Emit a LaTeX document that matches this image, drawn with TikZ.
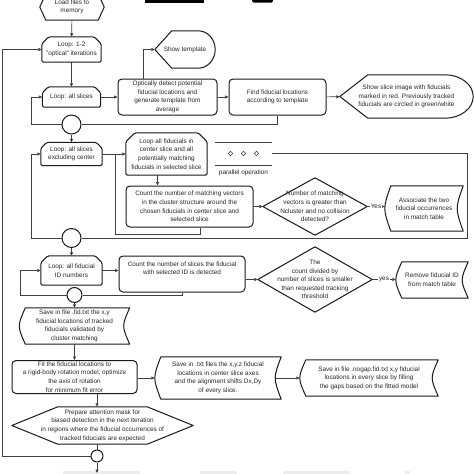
\documentclass[tikz,border=0pt]{standalone}
\usepackage{fontspec}
\setmainfont{Liberation Sans}
\usepackage{tikz}
\usetikzlibrary{arrows.meta}
\usetikzlibrary{calc}

\newcommand{\fcfont}{\fontsize{6.4}{8.6}\selectfont}

\tikzset{
    txt/.style={inner sep=0pt, align=center, font=\fcfont, text=black!85},
    sz/.style 2 args={minimum width=#1pt, minimum height=#2pt},
    outl/.style={draw=black!90, line width=1pt, line join=round},
    line/.style={draw=black!75, line width=0.6pt},
    arr/.style={line, -{Triangle[length=3.5pt,width=3pt]}},
    procbox/.style={txt, outl, rounded corners=4pt},
    junction/.style={circle, outl, inner sep=0pt, minimum size=#1pt},
    loopbox/.style={txt, append after command={\pgfextra{
        \draw[outl, rounded corners=1.5pt] (\tikzlastnode.south west) -- ([yshift=-#1pt]\tikzlastnode.north west)
            -- ([xshift=#1pt]\tikzlastnode.north west) -- ([xshift=-#1pt]\tikzlastnode.north east)
            -- ([yshift=-#1pt]\tikzlastnode.north east) -- (\tikzlastnode.south east) -- cycle;}}},
    prepbox/.style={txt, append after command={\pgfextra{
        \draw[outl] (\tikzlastnode.west) -- ([xshift=#1pt]\tikzlastnode.north west)
            -- ([xshift=-#1pt]\tikzlastnode.north east) -- (\tikzlastnode.east)
            -- ([xshift=-#1pt]\tikzlastnode.south east) -- ([xshift=#1pt]\tikzlastnode.south west) -- cycle;}}},
    storedbox/.style={txt, append after command={\pgfextra{
        \draw[outl] ([xshift=6pt]\tikzlastnode.north west) -- (\tikzlastnode.north east)
            .. controls ([xshift=-8pt]\tikzlastnode.east) .. (\tikzlastnode.south east)
            -- ([xshift=6pt]\tikzlastnode.south west)
            .. controls ([xshift=-2pt]\tikzlastnode.west) .. ([xshift=6pt]\tikzlastnode.north west) -- cycle;}}},
    displaybox/.style={txt, append after command={\pgfextra{
        \draw[outl] (\tikzlastnode.west) -- ([xshift=#1pt]\tikzlastnode.north west)
            -- ([xshift=-#1pt]\tikzlastnode.north east)
            .. controls ($([xshift=-#1pt]\tikzlastnode.north east)!0.55!(\tikzlastnode.north east)$)
               and ($(\tikzlastnode.east)!0.55!(\tikzlastnode.north east)$) .. (\tikzlastnode.east)
            .. controls ($(\tikzlastnode.east)!0.55!(\tikzlastnode.south east)$)
               and ($([xshift=-#1pt]\tikzlastnode.south east)!0.55!(\tikzlastnode.south east)$) .. ([xshift=-#1pt]\tikzlastnode.south east)
            -- ([xshift=#1pt]\tikzlastnode.south west) -- cycle;}}},
    decisionbox/.style={txt, append after command={\pgfextra{
        \draw[outl] (\tikzlastnode.west) -- (\tikzlastnode.north) -- (\tikzlastnode.east)
            -- (\tikzlastnode.south) -- cycle;}}},
}

\begin{document}
\begin{tikzpicture}[x=1pt, y=-1pt]
    \useasboundingbox (0,0) rectangle (474,474);
    % cut-off parts of the neighbouring figures
    \fill[black] (145,-2) rectangle (204,2.5);
    \fill[black, rounded corners=1.5pt] (252,-4) rectangle (273,2.5);
    \fill[gray!14] (63,471) rectangle (140,476);
    \fill[gray!14] (200,471) rectangle (237,476);
    \fill[gray!14] (283,471) rectangle (350,476);
    \fill[gray!14] (405,471) rectangle (410,476);

    % first pass
    \node[prepbox=6, sz={64}{26}] (load) at (72,7) {Load files to\\memory};
    \node[loopbox=7, sz={59}{25}] (loop12) at (71.5,49.5) {Loop: 1-2\\"optical" iterations};
    \node[loopbox=6, sz={58}{20}] (loopall) at (71.5,97) {Loop: all slices};
    \node[procbox, sz={99}{36}] (optic) at (167.5,97) {Optically detect potential\\fiducial locations and\\generate template from\\average};
    \node[displaybox=17, sz={60}{37}] (showtpl) at (185,49.5) {Show template};
    \node[procbox, sz={97}{36}] (find) at (277.5,97) {Find fiducial locations\\according to template};
    \node[displaybox=28, sz={133}{43}] (showslice) at (406.5,96.5) {Show slice image with fiducials\\marked in red. Previously tracked\\fiducials are circled in green/white};
    \node[junction=19] (c1) at (71.5,124.5) {};

    % matching between slices
    \node[loopbox=6, sz={61}{23}] (loopex) at (71.5,154) {Loop: all slices\\excluding center};
    \node[loopbox=9, sz={81}{42}] (loopfid) at (166.5,154) {Loop all fiducials in\\center slice and all\\potentially matching\\fiducials in selected slice};
    \node[txt, sz={57}{23}] (par) at (243.5,153.5) {};
    \node[txt] (parlabel) at (243.5,173) {parallel operation};
    \node[procbox, sz={127}{41}] (count) at (189.5,206.5) {Count the number of matching vectors\\in the cluster structure around the\\chosen fiducials in center slice and\\selected slice};
    \node[decisionbox, sz={104}{57}] (dia1) at (315,206.5) {Number of matching\\vectors is greater than\\Ncluster and no collision\\detected?};
    \node[storedbox, sz={78}{45}] (assoc) at (424,208.5) {Associate the two\\fiducial occurrences\\in match table};
    \node[junction=19] (c2) at (71.5,238) {};
    \coordinate (frameSE) at (467,238);
    \coordinate (inner) at (115,234);

    % tracking threshold
    \node[loopbox=7, sz={61}{29}] (loopid) at (71.5,270.5) {Loop: all fiducial\\ID numbers};
    \node[procbox, sz={126}{36}] (cnts) at (182,274) {Count the number of slices the fiducial\\with selected ID is detected\\[3pt]};
    \node[decisionbox, sz={114}{65}] (dia2) at (315,279.5) {The\\count divided by\\number of slices is smaller\\than requested tracking\\threshold};
    \node[storedbox, sz={72}{36}] (remove) at (432,280) {Remove fiducial ID\\from match table};
    \node[junction=15] (c3) at (74.5,295) {};

    % output and model fit
    \node[storedbox, sz={110}{36}] (savefid) at (74.5,326) {Save in file .fid.txt the x,y\\fiducial locations of tracked\\fiducials validated by\\cluster matching};
    \node[procbox, sz={125}{33}] (fit) at (74.5,377) {Fit the fiducial locations to\\a rigid-body rotation model, optimize\\the axis of rotation\\for minimum fit error};
    \node[storedbox, sz={126}{42}] (savetxt) at (218,378) {Save in .txt files the x,y,z fiducial\\locations in center slice axes\\and the alignment shifts Dx,Dy\\of every slice.};
    \node[storedbox, sz={138}{36}] (nogap) at (369,378) {Save in file .nogap.fid.txt x,y fiducial\\locations in every slice by filling\\the gaps based on the fitted model};
    \node[prepbox=46, sz={181}{37}] (prep) at (102.5,425.5) {Prepare attention mask for\\biased detection in the next iteration\\in regions where the fiducial occurrences of\\tracked fiducials are expected};
    \node[junction=12] (c4) at (97,456) {};
    \coordinate (xouter) at (2.5,0);
    \coordinate (xloop) at (31,0);
    \coordinate (xid) at (20,0);
    \coordinate (bottom) at (97,473);

    % parallel operation symbol
    \draw[line] (par.north west) -- (par.north east);
    \draw[line] (par.south west) -- (par.south east);
    \foreach \dx in {-13,0,13}
        \draw[line] ([xshift=\dx pt]par.center) +(-2.2,0) -- +(0,-2.2) -- +(2.2,0) -- +(0,2.2) -- cycle;

    % connectors
    \path [arr] (load) edge (loop12);
    \path [arr] (loop12) edge (loopall);
    \path [arr] (loopall) edge (optic);
    \path [arr] (optic) edge (find);
    \path [arr] (find) edge (showslice);
    \draw [arr] ([xshift=-24.5pt]optic.north) |- (showtpl.west);
    \draw [line] (find.south) |- (c1.east);
    \draw [arr] (c1.west) -| (xloop |- loopall.west) -- (loopall.west);
    \path [arr] (c1) edge (loopex);

    \path [arr] (loopex) edge (loopfid);
    \draw [arr] ([xshift=-9pt]loopfid.south) -- ([xshift=-9pt]loopfid.south |- count.north);
    \path [arr] (count) edge (dia1);
    \draw [arr] (dia1.east) -- node[txt, fill=white, inner sep=0.6pt] {Yes} (dia1.east -| assoc.west);
    \draw [line] ([xshift=10.5pt]count.south) |- (inner) |- (loopex.east -| inner);
    \draw [line] (par.east) -| (frameSE) -- (c2.east);
    \draw [arr] (c2.west) -| (xloop |- loopex.west) -- (loopex.west);
    \path [arr] (c2) edge (loopid);

    \path [arr] (loopid) edge (cnts.west |- loopid);
    \draw [arr] (cnts.east |- dia2) -- (dia2.west);
    \draw [arr] (dia2.east) -- node[txt, fill=white, inner sep=0.6pt] {yes} (dia2.east -| remove.west);
    \draw [line] (cnts.south) |- (c3.east);
    \draw [arr] (c3.west) -| (xid |- loopid.west) -- (loopid.west);
    \draw [arr] (c3.south) -- (c3.south |- savefid.north);

    \draw [arr] (c3.south |- savefid.south) -- (c3.south |- fit.north);
    \draw [arr] (fit.east |- savetxt) -- (savetxt.west);
    \draw [arr] ([xshift=-6pt]savetxt.east) -- (nogap.west);
    \draw [arr] (c4.north |- fit.south) -- (c4.north |- prep.north);
    \draw [line] (c4.north |- prep.south) -- (c4.north);
    \draw [arr] (c4.west) -| (xouter |- loop12.west) -- (loop12.west);
    \draw [arr] (c4.south) -- (bottom);
\end{tikzpicture}
\end{document}
